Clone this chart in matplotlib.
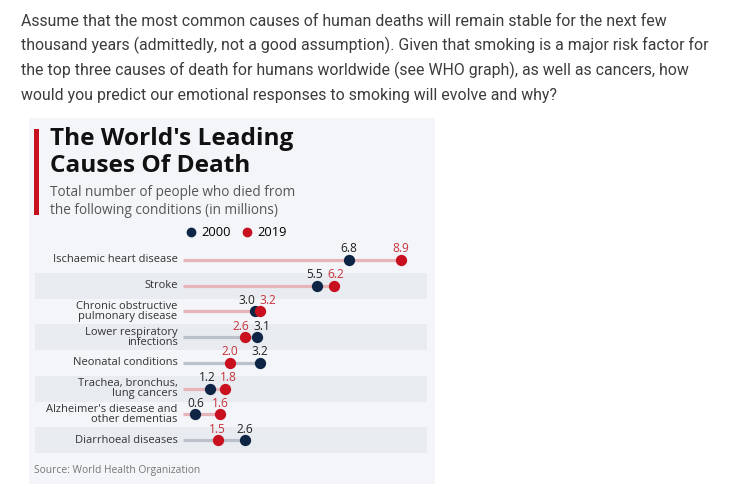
import matplotlib
matplotlib.use('Agg')
import matplotlib.pyplot as plt
from matplotlib.patches import Rectangle
from matplotlib.lines import Line2D

W, H = 739, 487

# question text above the chart
question = [
    'Assume that the most common causes of human deaths will remain stable for the next few',
    'thousand years (admittedly, not a good assumption). Given that smoking is a major risk factor for',
    'the top three causes of death for humans worldwide (see WHO graph), as well as cancers, how',
    'would you predict our emotional responses to smoking will evolve and why?',
]

# chart data (deaths in millions)
causes = [
    'Ischaemic heart disease',
    'Stroke',
    'Chronic obstructive\npulmonary disease',
    'Lower respiratory\ninfections',
    'Neonatal conditions',
    'Trachea, bronchus,\nlung cancers',
    "Alzheimer's diesease and\nother dementias",
    'Diarrhoeal diseases',
]
deaths_2000 = [6.8, 5.5, 3.0, 3.1, 3.2, 1.2, 0.6, 2.6]
deaths_2019 = [8.9, 6.2, 3.2, 2.6, 2.0, 1.8, 1.6, 1.5]

NAVY = '#0f2545'
RED = '#c8101f'
PINK = '#e7b5b9'
GREY_LINE = '#bac1ca'
PANEL = '#f3f5f8'
BAND = '#e8ecf0'


def fx(x):
    return x / W


def fy(y):
    return 1 - y / H


fig = plt.figure(figsize=(W / 100, H / 100), dpi=100)
fig.patch.set_facecolor('white')

for i, line in enumerate(question):
    fig.text(fx(21), fy(21 + i * 24.7), line, fontsize=11.45, family='Roboto',
             color='#3c3c3c', va='center', ha='left')

# chart panel and red accent bar
fig.patches.append(Rectangle((fx(29), fy(484)), fx(435 - 29), (484 - 118) / H,
                             transform=fig.transFigure, facecolor=PANEL,
                             edgecolor='none', zorder=-3))
fig.patches.append(Rectangle((fx(34), fy(215)), fx(5), (215 - 129) / H,
                             transform=fig.transFigure, facecolor=RED,
                             edgecolor='none', zorder=-2))

fig.text(fx(50), fy(139), "The World's Leading", fontsize=17.6, family='Open Sans',
         weight='bold', color='#111111', va='center')
fig.text(fx(50), fy(166), 'Causes Of Death', fontsize=17.6, family='Open Sans',
         weight='bold', color='#111111', va='center')
fig.text(fx(50), fy(193), 'Total number of people who died from', fontsize=9.8,
         family='Open Sans', color='#555555', va='center')
fig.text(fx(50), fy(211), 'the following conditions (in millions)', fontsize=9.8,
         family='Open Sans', color='#555555', va='center')
fig.text(fx(34), fy(470), 'Source: World Health Organization', fontsize=7.4,
         family='Open Sans', color='#777777', va='center')

handles = [
    Line2D([], [], ls='none', marker='o', ms=6, color=NAVY, label='2000'),
    Line2D([], [], ls='none', marker='o', ms=6, color=RED, label='2019'),
]
fig.legend(handles=handles, loc='center', bbox_to_anchor=(fx(237), fy(233)),
           ncol=2, frameon=False, handlelength=0.6, handletextpad=0.5,
           columnspacing=1.0, prop={'family': 'Open Sans', 'size': 9.3})

# dumbbell axes: 0 sits at x=180.6 px, 24.76 px per million
px_unit = 24.76
zero_px = 180.6
left_px, right_px = 35, 427
top_px, bottom_px = 247, 453
ax = fig.add_axes([fx(left_px), fy(bottom_px), fx(right_px - left_px),
                   (bottom_px - top_px) / H])
ax.set_xlim((left_px - zero_px) / px_unit, (right_px - zero_px) / px_unit)
ax.set_ylim(len(causes) - 0.5, -0.5)
ax.axis('off')

for i in range(len(causes)):
    if i % 2 == 1:
        ax.axhspan(i - 0.5, i + 0.5, color=BAND, lw=0, zorder=0)

for i, (name, a, b) in enumerate(zip(causes, deaths_2000, deaths_2019)):
    line_col = PINK if b >= a else GREY_LINE
    ax.plot([0.1, max(a, b)], [i, i], color=line_col, lw=2.3,
            solid_capstyle='butt', zorder=2)
    ax.scatter([a], [i], s=66, color=NAVY, zorder=3, lw=0)
    ax.scatter([b], [i], s=66, color=RED, zorder=4, lw=0)
    ax.annotate(name, (0, i), xytext=(-3, 0), textcoords='offset pixels',
                ha='right', va='center', fontsize=8.0, family='Open Sans',
                color='#333333', linespacing=0.85)

    # push the two value labels apart when the dots are close
    gap = abs(b - a) * px_unit
    shift = max(0.0, (21 - gap) / 2)
    sa = -shift if a <= b else shift
    sb = -sa
    ax.annotate(f'{a:.1f}', (a, i), xytext=(sa, 11), textcoords='offset pixels',
                ha='center', va='center', fontsize=8.6, family='Open Sans',
                color='#222222')
    ax.annotate(f'{b:.1f}', (b, i), xytext=(sb, 11), textcoords='offset pixels',
                ha='center', va='center', fontsize=8.6, family='Open Sans',
                color='#c8323c')

fig.savefig('out.png', dpi=100, facecolor='white')
